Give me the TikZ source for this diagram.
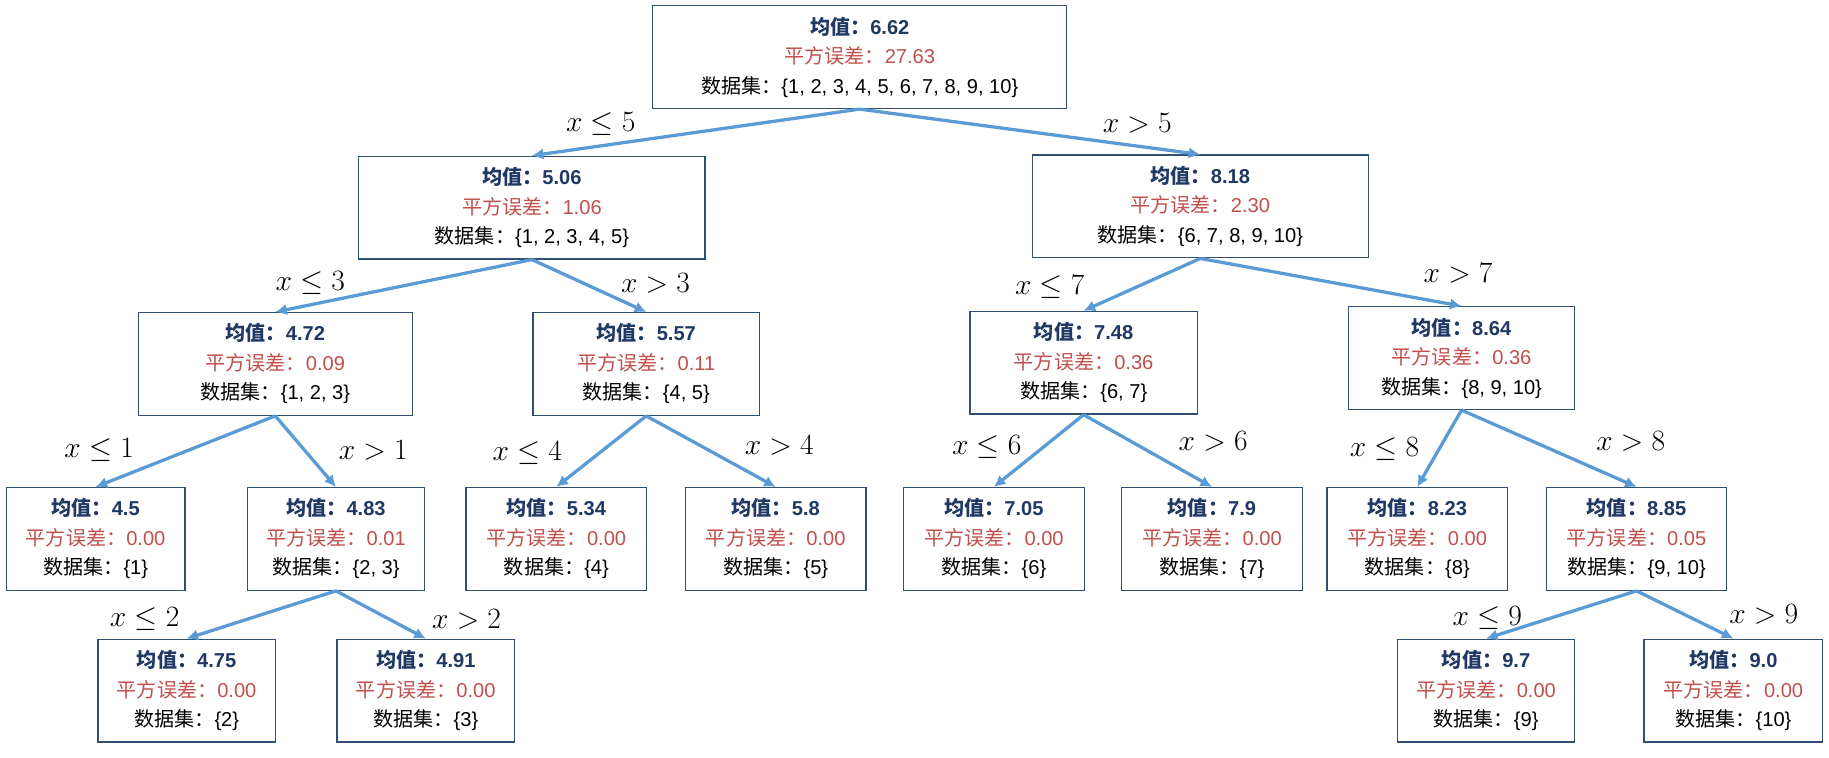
\documentclass[tikz,border=0pt]{standalone}
\usepackage{fix-cm}
\usetikzlibrary{arrows.meta}
\usepackage{fontspec}
\setmainfont{Liberation Sans}
\newfontfamily\cjk{Noto Sans CJK SC}
\definecolor{navy}{HTML}{1F3864}
\definecolor{tred}{HTML}{C0504D}
\definecolor{bord}{HTML}{2F4F73}
\definecolor{arr}{HTML}{5B9BD5}
\newcommand{\tb}[3]{{\color{navy}\bfseries{\cjk 均值：}#1}\\{\color{tred}{\cjk 平方误差：}#2}\\{\cjk 数据集：}\{#3\}}
\begin{document}
\begin{tikzpicture}[x=0.05cm,y=-0.05cm,
  box/.style={draw=bord,line width=1.6pt,fill=white,align=center,font=\fontsize{24.5}{36}\selectfont,minimum width=#1*0.05cm,minimum height=4.4cm,inner sep=0pt},
  con/.style={draw=arr,line width=4pt,-{Latex[length=14pt,width=14pt]}},
  lab/.style={font=\fontsize{36}{40}\selectfont}]
\useasboundingbox (0,0) rectangle (1568,649);
\node[box=355] (r) at (737,49) {\tb{6.62}{27.63}{1, 2, 3, 4, 5, 6, 7, 8, 9, 10}};
\node[box=297] (a) at (456,178) {\tb{5.06}{1.06}{1, 2, 3, 4, 5}};
\node[box=288] (b) at (1029,177) {\tb{8.18}{2.30}{6, 7, 8, 9, 10}};
\node[box=235] (aa) at (236,312) {\tb{4.72}{0.09}{1, 2, 3}};
\node[box=194] (ab) at (554,312) {\tb{5.57}{0.11}{4, 5}};
\node[box=195] (ba) at (929,311) {\tb{7.48}{0.36}{6, 7}};
\node[box=194] (bb) at (1253,307) {\tb{8.64}{0.36}{8, 9, 10}};
\node[box=153] (aaa) at (82,462) {\tb{4.5}{0.00}{1}};
\node[box=152] (aab) at (288,462) {\tb{4.83}{0.01}{2, 3}};
\node[box=155] (aba) at (477,462) {\tb{5.34}{0.00}{4}};
\node[box=155] (abb) at (665,462) {\tb{5.8}{0.00}{5}};
\node[box=155] (baa) at (852,462) {\tb{7.05}{0.00}{6}};
\node[box=155] (bab) at (1039,462) {\tb{7.9}{0.00}{7}};
\node[box=155] (bba) at (1215,462) {\tb{8.23}{0.00}{8}};
\node[box=154] (bbb) at (1403,462) {\tb{8.85}{0.05}{9, 10}};
\node[box=152] (aaba) at (160,592) {\tb{4.75}{0.00}{2}};
\node[box=152] (aabb) at (365,592) {\tb{4.91}{0.00}{3}};
\node[box=152] (bbba) at (1274,592) {\tb{9.7}{0.00}{9}};
\node[box=153] (bbbb) at (1486,592) {\tb{9.0}{0.00}{10}};
\foreach \p/\c in {r/a,r/b,a/aa,a/ab,b/ba,b/bb,aa/aaa,aa/aab,ab/aba,ab/abb,ba/baa,ba/bab,bb/bba,bb/bbb,aab/aaba,aab/aabb,bbb/bbba,bbb/bbbb}
  \draw[con] (\p.south) -- (\c.north);
\node[lab] (l1) at (515,106) {$x\le 5$};
\node[lab] (l2) at (975,106) {$x>5$};
\node[lab] (l3) at (266,243) {$x\le 3$};
\node[lab] (l4) at (562,243) {$x>3$};
\node[lab] (l5) at (900,246) {$x\le 7$};
\node[lab] (l6) at (1250,234) {$x>7$};
\node[lab] (l7) at (85,386) {$x\le 1$};
\node[lab] (l8) at (320,386) {$x>1$};
\node[lab] (l9) at (452,388) {$x\le 4$};
\node[lab] (l10) at (668,382) {$x>4$};
\node[lab] (l11) at (846,383) {$x\le 6$};
\node[lab] (l12) at (1040,378) {$x>6$};
\node[lab] (l13) at (1187,385) {$x\le 8$};
\node[lab] (l14) at (1398,378) {$x>8$};
\node[lab] (l15) at (124,531) {$x\le 2$};
\node[lab] (l16) at (400,531) {$x>2$};
\node[lab] (l17) at (1275,530) {$x\le 9$};
\node[lab] (l18) at (1512,527) {$x>9$};
\end{tikzpicture}
\end{document}
